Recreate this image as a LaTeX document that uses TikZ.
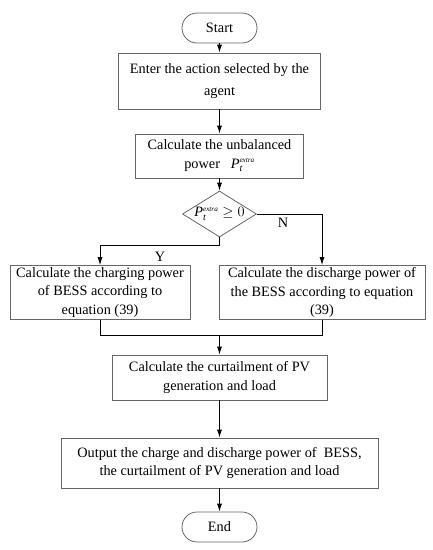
\documentclass[tikz,border=0pt]{standalone}
\usepackage{amsmath}
\usepackage{fontspec}
\setmainfont{Liberation Serif}
\usetikzlibrary{arrows.meta,positioning,shapes.geometric}
\newcommand{\Pextra}{\textit{P}_{\textit{t}}^{\scriptscriptstyle\textit{extra}}}

\begin{document}
\begin{tikzpicture}[>={Latex[length=8pt,width=5pt]},on grid,line width=0.8pt,
		font=\fontsize{14.3pt}{18.5pt}\selectfont,
		box/.style={draw=black!60,rectangle,align=center,inner sep=2pt},
		term/.style={draw=black!60,rectangle,rounded corners=15pt,minimum width=75pt,minimum height=30pt},
		test/.style={draw=black!60,diamond,aspect=1.6,inner sep=-2pt,minimum width=74pt,minimum height=46pt}]
		\useasboundingbox (0,0) rectangle (433pt,-550pt);
		\node[term]         (S)     at (219.5pt,-28pt) {Start};
		\node[box,minimum width=202pt,minimum height=56pt] (B_1) [below=53pt of S] {Enter the action selected by the\\[3pt]agent};
		\node[box,minimum width=168pt,minimum height=44pt] (B_2) [below=75pt of B_1] {Calculate the unbalanced\\power\ \ \ $\Pextra$};
		\node[test]         (D)     [below=58pt of B_2] {$\Pextra\geq 0$};
		\node[box,minimum width=180pt,minimum height=51pt] (B_3) [below left=78.5pt and 119.5pt of D] {Calculate the charging power\\of BESS according to\\equation (39)};
		\node[box,minimum width=206pt,minimum height=51pt] (B_4) [below right=78.5pt and 102.5pt of D] {Calculate the discharge power of\\the BESS according to equation\\(39)};
		\node[box,minimum width=215pt,minimum height=45pt] (B_5) [below=163.5pt of D] {Calculate the curtailment of PV\\generation and load};
		\node[box,minimum width=317pt,minimum height=50pt] (B_6) [below=85.5pt of B_5] {Output the charge and discharge power of \ BESS,\\the curtailment of PV generation and load};
		\node[term]         (E)     [below=64pt of B_6] {End};
		
		\draw[->] (S) -- (B_1);
		\draw[->] (B_1) -- (B_2);
		\draw[->] (B_2) -- (D);
		\draw[->] (D.south) -- ++(0,-8pt) -| (B_3.north);
		\draw[->] (D.east) -| (B_4.north);
		\node (Y) at (160pt,-257pt) {Y};
		\node (N) at (283pt,-223pt) {N};
		
		% merge of both branches
		\path (B_3.south) ++(0,-16pt) coordinate (L);
		\draw (B_3.south) -- (L) -| (B_4.south);
		\draw[->] (L -| B_5.north) -- (B_5.north);
		\draw[->] (B_5) -- (B_6);
		\draw[->] (B_6) -- (E);
	\end{tikzpicture}
\end{document}
